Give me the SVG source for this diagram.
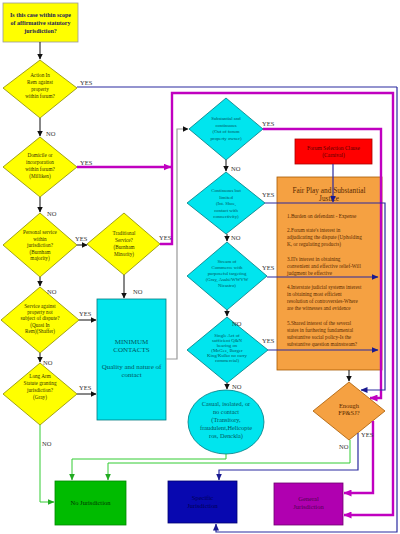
<svg xmlns="http://www.w3.org/2000/svg" width="400" height="534" viewBox="0 0 400 534">
<style>
text{font-family:"Liberation Serif","Times New Roman",serif;text-anchor:middle}
.y{fill:#ffff00;stroke:#8a8a00;stroke-width:0.8}
.c{fill:#00e5ee;stroke:#007a80;stroke-width:0.8}
.o{fill:#f5a142;stroke:#a85a00;stroke-width:0.8}
.ty{font-size:5.2px;fill:#333300}
.tc{font-size:4.8px;fill:#005560}
.to{font-size:5.2px;fill:#5a2a00;text-anchor:start}
.lb{font-size:6.5px;fill:#333;text-anchor:start}
.k{stroke:#111;stroke-width:1;fill:none}
.b{stroke:#2a2aa0;stroke-width:1.2;fill:none}
.m{stroke:#c000c0;stroke-width:2.4;fill:none}
.g{stroke:#33cc33;stroke-width:1;fill:none}
.gr{stroke:#999;stroke-width:1.2;fill:none}
</style>
<defs>
<marker id="ak" markerWidth="6" markerHeight="6" refX="5.5" refY="3" orient="auto" markerUnits="userSpaceOnUse"><path d="M0,0L6,3L0,6z" fill="#111"/></marker>
<marker id="ab" markerWidth="7" markerHeight="6" refX="6.5" refY="3" orient="auto" markerUnits="userSpaceOnUse"><path d="M0,0L7,3L0,6z" fill="#1a1a90"/></marker>
<marker id="am" markerWidth="8" markerHeight="7" refX="7.5" refY="3.5" orient="auto" markerUnits="userSpaceOnUse"><path d="M0,0L8,3.5L0,7z" fill="#c000c0"/></marker>
<marker id="ag" markerWidth="7" markerHeight="6" refX="6.5" refY="3" orient="auto" markerUnits="userSpaceOnUse"><path d="M0,0L7,3L0,6z" fill="#22aa22"/></marker>
</defs>

<g id="top">
<rect x="3" y="3" width="75" height="39" fill="#ffff00" stroke="#999" stroke-width="0.8"/>
<text x="40.5" y="17" font-size="6" font-weight="bold" fill="#1a1a55">Is this case within scope</text>
<text x="40.5" y="25" font-size="6" font-weight="bold" fill="#1a1a55">of affirmative statutory</text>
<text x="40.5" y="33" font-size="6" font-weight="bold" fill="#1a1a55">jurisdiction?</text>
</g>
<g id="inrem">
<polygon class="y" points="40,60 77,88 40,118 3,88"/>
<text class="ty" x="40" y="77" font-size="6.5">Action In</text>
<text class="ty" x="40" y="84">Rem against</text>
<text class="ty" x="40" y="91">property</text>
<text class="ty" x="40" y="98">within forum?</text>
</g>
<g id="domicile">
<polygon class="y" points="40,137 77,167 40,197 3,167"/>
<text class="ty" x="40" y="157">Domicile or</text>
<text class="ty" x="40" y="164">incorporation</text>
<text class="ty" x="40" y="171">within forum?</text>
<text class="ty" x="40" y="178">(Milliken)</text>
</g>
<g id="personal">
<polygon class="y" points="40,213 77,245 40,277 3,245"/>
<text class="ty" x="40" y="234">Personal service</text>
<text class="ty" x="40" y="240.5">within</text>
<text class="ty" x="40" y="247">jurisdiction?</text>
<text class="ty" x="40" y="253.5">(Burnham</text>
<text class="ty" x="40" y="260">majority)</text>
</g>
<g id="traditional">
<polygon class="y" points="124,213 160,244 124,275 87,244"/>
<text class="ty" x="124" y="235">Traditional</text>
<text class="ty" x="124" y="242">Service?</text>
<text class="ty" x="124" y="249">(Burnham</text>
<text class="ty" x="124" y="256">Minority)</text>
</g>
<g id="quasi">
<polygon class="y" points="40,287 79,320 40,353 1,320"/>
<text class="ty" x="40" y="308">Service against</text>
<text class="ty" x="40" y="314">property not</text>
<text class="ty" x="40" y="320">subject of dispute?</text>
<text class="ty" x="40" y="326.5">(Quasi In</text>
<text class="ty" x="40" y="333">Rem)(Shaffer)</text>
</g>
<g id="longarm">
<polygon class="y" points="40,363 77,394 40,425 3,394"/>
<text class="ty" x="40" y="378">Long Arm</text>
<text class="ty" x="40" y="385">Statute granting</text>
<text class="ty" x="40" y="392">jurisdiction?</text>
<text class="ty" x="40" y="399">(Gray)</text>
</g>
<g id="mincontacts">
<rect x="97" y="299" width="69" height="121" fill="#00e5ee" stroke="#007a80" stroke-width="0.8"/>
<text x="131.5" y="344" font-size="7" fill="#005560">MINIMUM</text>
<text x="131.5" y="352" font-size="7" fill="#005560">CONTACTS</text>
<text x="131.5" y="369" font-size="7" fill="#005560">Quality and nature of</text>
<text x="131.5" y="377" font-size="7" fill="#005560">contact</text>
</g>
<g id="substantial">
<polygon class="c" points="226,98 263,129 226,160 189,129"/>
<text class="tc" x="226" y="120">Substantial and</text>
<text class="tc" x="226" y="126.5">continuous</text>
<text class="tc" x="226" y="133">(Out of forum</text>
<text class="tc" x="226" y="139.5">property owner)</text>
</g>
<g id="limited">
<polygon class="c" points="226,172 265,203 226,234 187,203"/>
<text class="tc" x="226" y="192">Continuous but</text>
<text class="tc" x="226" y="198.5">limited</text>
<text class="tc" x="226" y="205">(Int. Shoe,</text>
<text class="tc" x="226" y="211.5">contact with</text>
<text class="tc" x="226" y="218">connectivity)</text>
</g>
<g id="stream">
<polygon class="c" points="227,242 267,276 227,310 187,276"/>
<text class="tc" x="227" y="263">Stream of</text>
<text class="tc" x="227" y="269">Commerce with</text>
<text class="tc" x="227" y="275">purposeful targeting</text>
<text class="tc" x="227" y="281">(Gray, Asahi/WWVW</text>
<text class="tc" x="227" y="287">Nicastro)</text>
</g>
<g id="singleact">
<polygon class="c" points="227,317 268,350 227,383 187,350"/>
<text class="tc" x="227" y="337">Single Act of</text>
<text class="tc" x="227" y="342">sufficient Q&amp;N</text>
<text class="tc" x="227" y="347">bearing on</text>
<text class="tc" x="227" y="352">(McGee, Burger</text>
<text class="tc" x="227" y="357">King/Kulko no carry</text>
<text class="tc" x="227" y="362">commercial)</text>
</g>
<g id="casual">
<ellipse cx="226" cy="422" rx="38" ry="32" fill="#00e5ee" stroke="#007a80" stroke-width="0.8"/>
<text x="226" y="406" font-size="6.3" fill="#005560">Casual, isolated, or</text>
<text x="226" y="414" font-size="6.3" fill="#005560">no contact</text>
<text x="226" y="422" font-size="6.3" fill="#005560">(Transitory,</text>
<text x="226" y="430" font-size="6.3" fill="#005560">fraudulent,Helicopte</text>
<text x="226" y="438" font-size="6.3" fill="#005560">ros, Denckla)</text>
</g>
<g id="forumselection">
<rect x="295" y="139" width="77" height="25" fill="#ff0000" stroke="#aa0000" stroke-width="0.8"/>
<text x="333.5" y="149.5" font-size="5.5" fill="#550000">Forum Selection Clause</text>
<text x="333.5" y="157" font-size="5.5" fill="#550000">(Carnival)</text>
</g>
<g id="fairplay">
<rect class="o" x="277" y="177" width="105" height="193"/>
<text x="329" y="193" font-size="7.3" fill="#5a2a00">Fair Play and Substantial</text>
<text x="329" y="201" font-size="7.3" fill="#5a2a00">Justice</text>
<text class="to" x="287" y="218">1.Burden on defendant - Expense</text>
<text class="to" x="287" y="232">2.Forum state's interest in</text>
<text class="to" x="287" y="239">adjudicating the dispute (Upholding</text>
<text class="to" x="287" y="246">K, or regulating products)</text>
<text class="to" x="287" y="261">3.Π's interest in obtaining</text>
<text class="to" x="287" y="268">convenient and effective relief-Will</text>
<text class="to" x="287" y="275">judgment be effective</text>
<text class="to" x="287" y="289">4.Interstate judicial systems interest</text>
<text class="to" x="287" y="296">in obtaining most efficient</text>
<text class="to" x="287" y="303">resolution of controversies-Where</text>
<text class="to" x="287" y="310">are the witnesses and evidence</text>
<text class="to" x="287" y="325">5.Shared interest of the several</text>
<text class="to" x="287" y="332">states in furthering fundamental</text>
<text class="to" x="287" y="339">substantive social policy-Is the</text>
<text class="to" x="287" y="346">substantive question mainstream?</text>
</g>
<g id="enough">
<polygon class="o" points="349,382 385,411 349,440 313,411"/>
<text x="349" y="408" font-size="6.5" fill="#5a2a00">Enough</text>
<text x="349" y="415" font-size="6.5" fill="#5a2a00">FP&amp;SJ?</text>
</g>
<g id="nojurisdiction">
<rect x="55" y="481" width="71" height="44" fill="#00bb00" stroke="#008800" stroke-width="0.8"/>
<text x="90.5" y="505" font-size="6.5" fill="#003300">No Jurisdiction</text>
</g>
<g id="specific">
<rect x="168" y="481" width="69" height="42" fill="#0808b0" stroke="#000070" stroke-width="0.8"/>
<text x="202.5" y="500" font-size="6.5" fill="#000050">Specific</text>
<text x="202.5" y="508" font-size="6.5" fill="#000050">Jurisdiction</text>
</g>
<g id="general">
<rect x="274" y="483" width="69" height="42" fill="#b000b0" stroke="#700070" stroke-width="0.8"/>
<text x="308.5" y="501" font-size="6.5" fill="#500050">General</text>
<text x="308.5" y="509" font-size="6.5" fill="#500050">Jurisdiction</text>
</g>

<g id="connectors">
<path class="k" d="M40,42V59" marker-end="url(#ak)"/>
<path class="k" d="M40,118V136" marker-end="url(#ak)"/>
<path class="k" d="M40,197V212" marker-end="url(#ak)"/>
<path class="k" d="M77,245H87" marker-end="url(#ak)"/>
<path class="k" d="M40,277V286" marker-end="url(#ak)"/>
<path class="k" d="M124,275V298" marker-end="url(#ak)"/>
<path class="k" d="M79,320H96" marker-end="url(#ak)"/>
<path class="k" d="M40,353V362" marker-end="url(#ak)"/>
<path class="k" d="M77,394H96" marker-end="url(#ak)"/>
<path class="gr" d="M166,359H177V129H188" marker-end="url(#ak)"/>
<path class="k" d="M226,160V171" marker-end="url(#ak)"/>
<path class="k" d="M227,234V241" marker-end="url(#ak)"/>
<path class="k" d="M227,310V316" marker-end="url(#ak)"/>
<path class="k" d="M227,383V389" marker-end="url(#ak)"/>
<path class="k" d="M349,370V381" marker-end="url(#ak)"/>
<path class="b" d="M77,87H397" stroke="#3a3ab8"/>
<path class="b" d="M397,87V532H216V524" stroke="#8c8ce8" stroke-width="2" marker-end="url(#ab)"/>
<path class="m" d="M77,167H171" marker-end="url(#am)"/>
<path class="m" d="M160,244H172V93H393V515H344" marker-end="url(#am)"/>
<path class="m" d="M263,129H381V398H370" marker-end="url(#am)"/>
<path class="m" d="M373,421V493H344" marker-end="url(#am)"/>
<path class="b" d="M265,203H385V390H361" marker-end="url(#ab)"/>
<path class="b" d="M333,164V202" marker-end="url(#ab)"/>
<path class="b" d="M267,277H378" marker-end="url(#ab)"/>
<path class="b" d="M268,350H378" marker-end="url(#ab)"/>
<path class="b" d="M358,433V470H219V480" marker-end="url(#ab)"/>
<path class="g" d="M40,425V502H54" marker-end="url(#ag)"/>
<path class="g" d="M226,454V459H72V480" marker-end="url(#ag)"/>
<path class="g" d="M350,440V463H108V480" marker-end="url(#ag)"/>
<text class="lb" x="80" y="85">YES</text>
<text class="lb" x="46" y="136">NO</text>
<text class="lb" x="80" y="165">YES</text>
<text class="lb" x="47" y="216">NO</text>
<text class="lb" x="75" y="241">YES</text>
<text class="lb" x="159" y="240">YES</text>
<text class="lb" x="47" y="294">NO</text>
<text class="lb" x="133" y="294">NO</text>
<text class="lb" x="79" y="316">YES</text>
<text class="lb" x="43" y="365">NO</text>
<text class="lb" x="79" y="390">YES</text>
<text class="lb" x="42" y="446">NO</text>
<text class="lb" x="262" y="126">YES</text>
<text class="lb" x="231" y="171">NO</text>
<text class="lb" x="262" y="197">YES</text>
<text class="lb" x="231" y="240">NO</text>
<text class="lb" x="262" y="270">YES</text>
<text class="lb" x="232" y="326">NO</text>
<text class="lb" x="262" y="343">YES</text>
<text class="lb" x="232" y="389">NO</text>
<text class="lb" x="361" y="437">YES</text>
<text class="lb" x="339" y="449">NO</text>
</g>
</svg>
